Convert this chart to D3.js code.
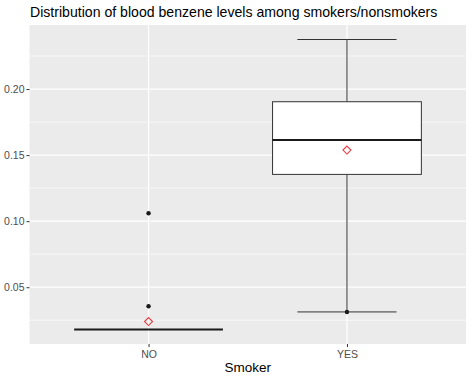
<!DOCTYPE html>
<html>
<head>
<meta charset="utf-8">
<script src="https://cdn.jsdelivr.net/npm/d3@7"></script>
<style>
  body { margin: 0; background: #fff; }
  text { font-family: "Liberation Sans", Arial, sans-serif; }
</style>
</head>
<body>
<svg id="chart" width="474" height="380"></svg>
<script>
// data
var groups = ["NO", "YES"];
var q1 = [0.018, 0.1354];
var median = [0.018, 0.1614];
var q3 = [0.018, 0.1904];
var whiskLo = [0.018, 0.0313];
var whiskHi = [0.018, 0.2375];
var means = [0.024, 0.1538];
var outliers = [
  { g: "NO", v: 0.106 },
  { g: "NO", v: 0.0356 },
  { g: "YES", v: 0.0313 }
];
var yTicks = [0.05, 0.10, 0.15, 0.20];
var yMinor = [0.025, 0.075, 0.125, 0.175, 0.225];

var svg = d3.select("#chart"),
    width = +svg.attr("width"),
    height = +svg.attr("height");

var panel = { left: 29.5, top: 25, right: 466, bottom: 344 };

// discrete axis: 0.6 expansion on each side like ggplot
var x = d3.scalePoint().domain(groups).range([panel.left, panel.right]).padding(0.6);
var step = x.step();

// continuous axis: data range plus 5% each side
var lo = d3.min(whiskLo.concat(outliers.map(function(d) { return d.v; }))),
    hi = d3.max(whiskHi),
    pad = (hi - lo) * 0.05;
var y = d3.scaleLinear()
    .domain([lo - pad, hi + pad])
    .range([panel.bottom, panel.top]);

svg.append("rect")
    .attr("x", panel.left).attr("y", panel.top)
    .attr("width", panel.right - panel.left).attr("height", panel.bottom - panel.top)
    .attr("fill", "#EBEBEB");

var grid = svg.append("g");
grid.selectAll("line.minor").data(yMinor).enter().append("line")
    .attr("x1", panel.left).attr("x2", panel.right)
    .attr("y1", function(d) { return y(d); }).attr("y2", function(d) { return y(d); })
    .attr("stroke", "#fff").attr("stroke-width", 0.6);
grid.selectAll("line.major").data(yTicks).enter().append("line")
    .attr("x1", panel.left).attr("x2", panel.right)
    .attr("y1", function(d) { return y(d); }).attr("y2", function(d) { return y(d); })
    .attr("stroke", "#fff").attr("stroke-width", 1.2);
grid.selectAll("line.vx").data(groups).enter().append("line")
    .attr("x1", function(d) { return x(d); }).attr("x2", function(d) { return x(d); })
    .attr("y1", panel.top).attr("y2", panel.bottom)
    .attr("stroke", "#fff").attr("stroke-width", 1.2);

// boxes
var boxW = step * 0.75, capW = step * 0.5;
var boxes = svg.append("g");
groups.forEach(function(g, i) {
  var cx = x(g);
  // whiskers
  boxes.append("line")
      .attr("x1", cx).attr("x2", cx)
      .attr("y1", y(whiskHi[i])).attr("y2", y(q3[i]))
      .attr("stroke", "#333").attr("stroke-width", 1);
  boxes.append("line")
      .attr("x1", cx).attr("x2", cx)
      .attr("y1", y(q1[i])).attr("y2", y(whiskLo[i]))
      .attr("stroke", "#333").attr("stroke-width", 1);
  [whiskHi[i], whiskLo[i]].forEach(function(v) {
    boxes.append("line")
        .attr("x1", cx - capW / 2).attr("x2", cx + capW / 2)
        .attr("y1", y(v)).attr("y2", y(v))
        .attr("stroke", "#333").attr("stroke-width", 1);
  });
  boxes.append("rect")
      .attr("x", cx - boxW / 2).attr("width", boxW)
      .attr("y", y(q3[i])).attr("height", y(q1[i]) - y(q3[i]))
      .attr("fill", "#fff").attr("stroke", "#333").attr("stroke-width", 1);
  boxes.append("line")
      .attr("x1", cx - boxW / 2).attr("x2", cx + boxW / 2)
      .attr("y1", y(median[i])).attr("y2", y(median[i]))
      .attr("stroke", "#1a1a1a").attr("stroke-width", 2);
});

svg.append("g").selectAll("circle").data(outliers).enter().append("circle")
    .attr("cx", function(d) { return x(d.g); })
    .attr("cy", function(d) { return y(d.v); })
    .attr("r", 2.2)
    .attr("fill", "#1a1a1a");

svg.append("g").selectAll("path").data(groups).enter().append("path")
    .attr("d", function(d, i) {
      var cx = x(d), cy = y(means[i]), r = 4;
      return "M" + cx + "," + (cy - r) + "L" + (cx + r) + "," + cy + "L" + cx + "," + (cy + r) + "L" + (cx - r) + "," + cy + "Z";
    })
    .attr("fill", "none").attr("stroke", "#E8383D").attr("stroke-width", 1.1);

// axes
var yAxis = svg.append("g")
    .attr("transform", "translate(" + panel.left + ",0)")
    .call(d3.axisLeft(y).tickValues(yTicks).tickFormat(d3.format(".2f")).tickSize(3).tickPadding(2));
yAxis.select(".domain").remove();
yAxis.selectAll("line").attr("stroke", "#333");
yAxis.selectAll("text").attr("fill", "#4D4D4D").style("font-size", "10.5px");

var xAxis = svg.append("g")
    .attr("transform", "translate(0," + panel.bottom + ")")
    .call(d3.axisBottom(x).tickSize(3).tickPadding(4));
xAxis.select(".domain").remove();
xAxis.selectAll("line").attr("stroke", "#333");
xAxis.selectAll("text").attr("fill", "#4D4D4D").style("font-size", "10.5px");

svg.append("text")
    .attr("x", (panel.left + panel.right) / 2).attr("y", 372)
    .attr("text-anchor", "middle")
    .style("font-size", "13.5px")
    .attr("fill", "#000")
    .text("Smoker");

svg.append("text")
    .attr("x", 30).attr("y", 17)
    .style("font-size", "14.1px")
    .attr("fill", "#000")
    .text("Distribution of blood benzene levels among smokers/nonsmokers");
</script>
</body>
</html>
